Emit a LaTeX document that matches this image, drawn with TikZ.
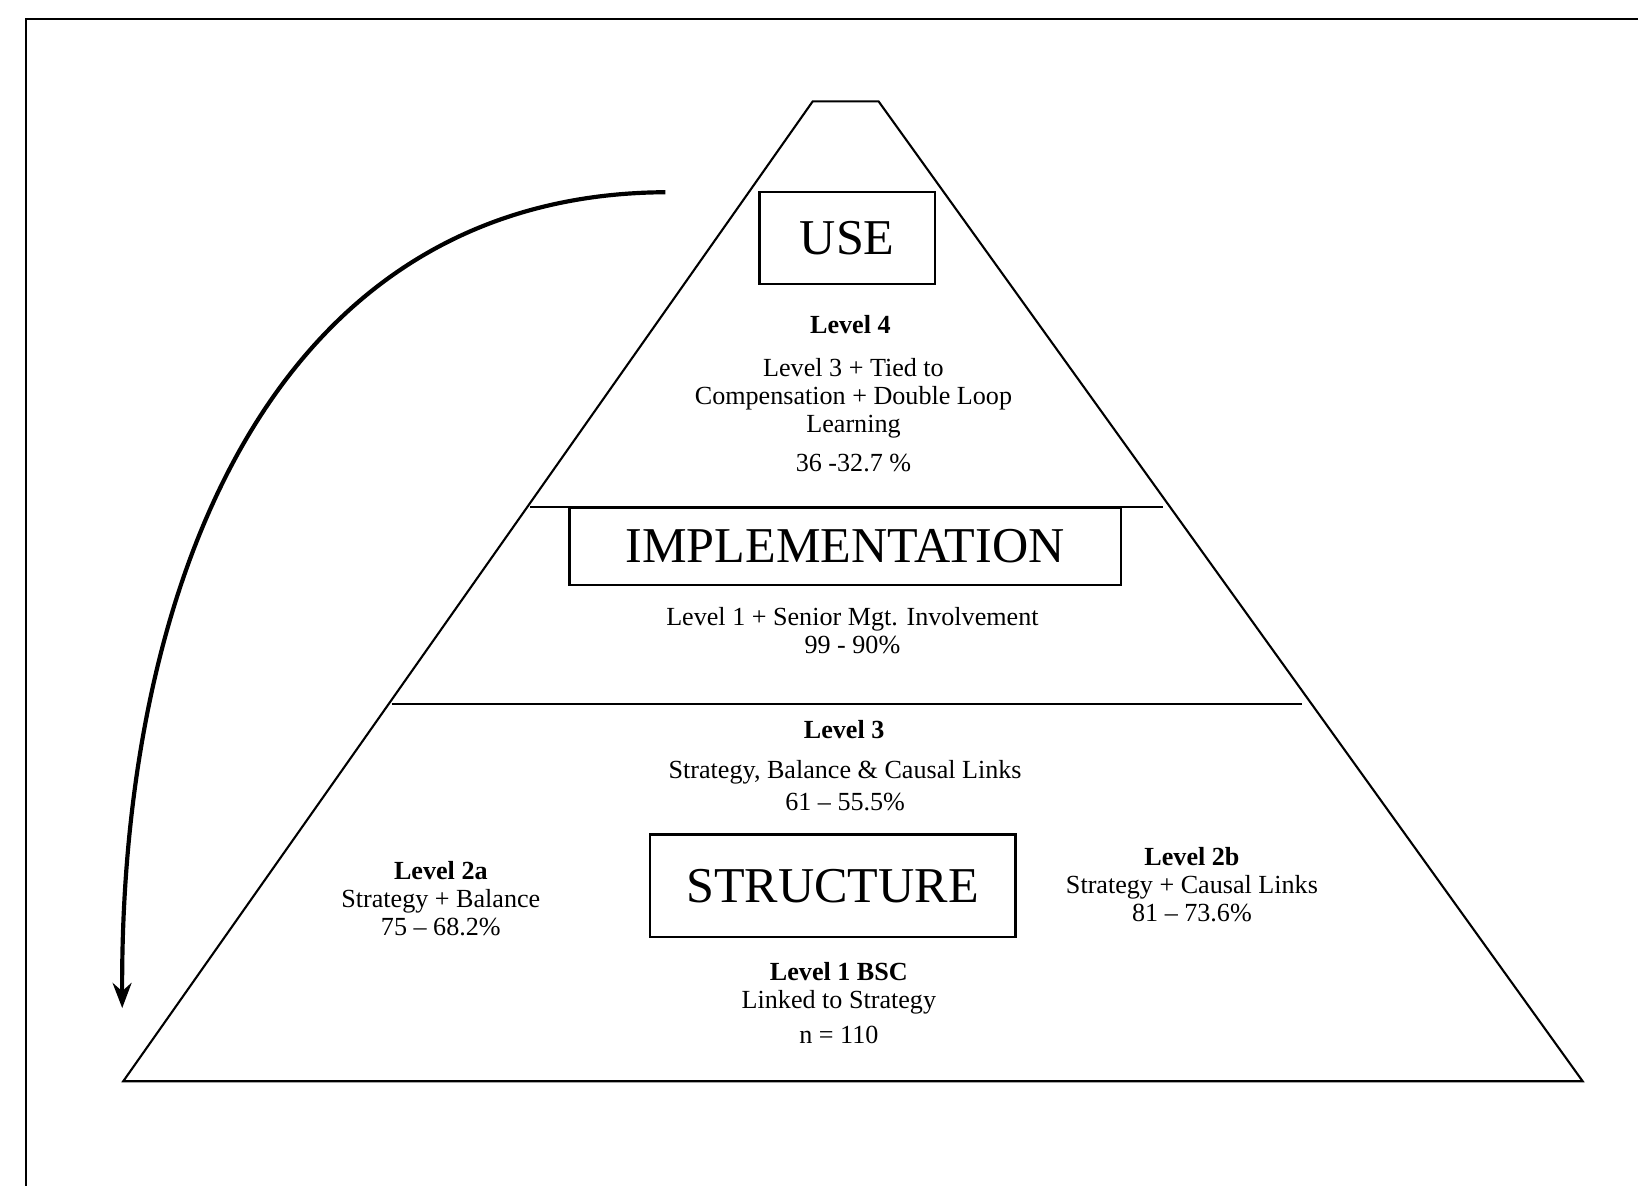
\documentclass[tikz,border=0pt]{standalone}
\usepackage{fontspec}
\setmainfont{Liberation Serif}
\usetikzlibrary{arrows.meta}
\begin{document}
\begin{tikzpicture}[x=0.5pt,y=-0.5pt,
  box/.style={draw,line width=1.2pt,inner sep=0pt,font=\fontsize{24}{28}\selectfont},
  txt/.style={align=center,font=\fontsize{12.5}{13.5}\selectfont},
  ln/.style={line width=1pt}]
\useasboundingbox (0,0) rectangle (1568,1135);
\draw[ln] (25,1135) -- (25,18) -- (1568,18);
\coordinate (apl) at (778,97); \coordinate (apr) at (841,97);
\coordinate (bl) at (118,1035); \coordinate (br) at (1515,1035);
\draw[ln] (bl) -- (apl) -- (apr) -- (br) -- cycle;
\draw[ln] (507,485) -- (1113,485);
\draw[ln] (375,674) -- (1246,674);
\node[box,minimum width=84pt,minimum height=44pt] (use) at (811,228) {USE};
\node[box,minimum width=264pt,minimum height=37pt] (impl) at (809,523) {IMPLEMENTATION};
\node[box,minimum width=175pt,minimum height=49pt] (str) at (797,848) {STRUCTURE};
\node[txt] (l4h) at (814,311) {\textbf{Level 4}};
\node[txt] (l4) at (817,381) {Level 3 + Tied to\\Compensation + Double Loop\\Learning};
\node[txt] (l4p) at (817,443) {36 -32.7 \%};
\node[txt] (l2) at (816,604) {Level 1 + Senior Mgt. Involvement\\99 - 90\%};
\node[txt] (l3h) at (808,698) {\textbf{Level 3}};
\node[txt] (l3) at (809,752) {Strategy, Balance \& Causal Links\\[2pt]61 -- 55.5\%};
\node[txt] (l2a) at (422,860) {\textbf{Level 2a}\\Strategy + Balance\\75 -- 68.2\%};
\node[txt] (l2b) at (1141,847) {\textbf{Level 2b}\\Strategy + Causal Links\\81 -- 73.6\%};
\node[txt] (l1) at (803,960) {\textbf{Level 1 BSC}\\Linked to Strategy\\[3pt]n = 110};
\coordinate (as) at (637,184); \coordinate (ae) at (117,965);
\draw[line width=2pt,-{Stealth[length=12pt,width=9pt]}] (as) .. controls (260,186) and (115,560) .. (ae);
\end{tikzpicture}
\end{document}
